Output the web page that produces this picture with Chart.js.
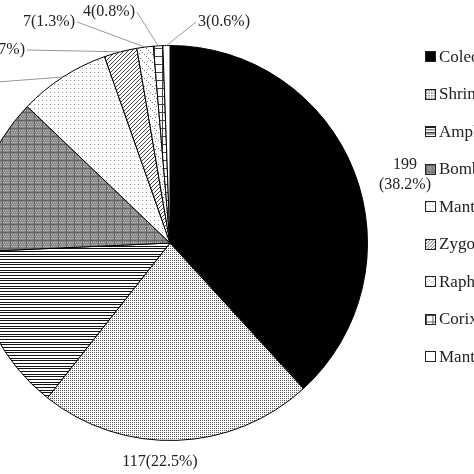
<!DOCTYPE html><html><head><meta charset="utf-8">
<script src="https://cdn.jsdelivr.net/npm/chart.js@4/dist/chart.umd.min.js"></script>
<style>
body{margin:0;width:474px;height:474px;overflow:hidden;background:#fff;position:relative;font-family:"Liberation Serif",serif}
#wrap{position:absolute;left:-230px;top:0;width:800px;height:474px}
#leg{position:absolute;left:425px;top:38px;font-size:17px;color:#222}
#leg div{height:37.5px;display:flex;align-items:center;white-space:nowrap}
#leg canvas{width:11px;height:11px;margin-right:3px;border:1px solid #222;box-sizing:border-box}
</style></head><body>
<div id="wrap"><canvas id="c"></canvas></div>
<div id="leg"></div>
<script>
const categories=["Coleoptera","Shrimp","Amphipoda","Bombycidae","Mantodea","Zygoptera","Raphidioptera","Corixidae","Mantophasmatodea"];
const values=[199,117,71,67,39,14,7,4,3];
const percents=["38.2%","22.5%","13.6%","12.9%","7.5%","2.7%","1.3%","0.8%","0.6%"];
function pat(kind){
  const c=document.createElement('canvas');c.width=c.height=8;const g=c.getContext('2d');
  g.fillStyle='#fff';g.fillRect(0,0,8,8);g.fillStyle='#555';
  if(kind==0){g.fillStyle='#000';g.fillRect(0,0,8,8);}
  else if(kind==1){for(let x=0;x<8;x+=2)for(let y=0;y<8;y+=2)g.fillRect(x,y,1,1);g.fillStyle='#aaa';}
  else if(kind==2){g.fillStyle='#111';for(let y=0;y<8;y+=3)g.fillRect(0,y,8,1);}
  else if(kind==3){g.fillStyle='#888';g.fillRect(0,0,8,8);g.fillStyle='#bbb';for(let x=0;x<8;x+=2)for(let y=0;y<8;y+=2)g.fillRect(x+((y/2)%2),y,1,1);g.fillStyle='#666';g.fillRect(0,0,8,1);g.fillRect(0,0,1,8);}
  else if(kind==4){g.fillStyle='#999';for(let x=0;x<8;x+=4)for(let y=0;y<8;y+=4)g.fillRect(x,y,1,1);}
  else if(kind==5){g.fillStyle='#444';for(let i=0;i<8;i++){g.fillRect(i,(8-i)%8,1,1);g.fillRect(i,(12-i)%8,1,1);}g.fillStyle='#999';g.fillRect(0,0,8,0);}
  else if(kind==6){g.fillStyle='#777';for(let i=0;i<8;i+=2)g.fillRect(i,i,1,1);g.fillRect(1,5,1,1);}
  else if(kind==7){g.fillStyle='#444';g.fillRect(0,0,8,1);g.fillRect(0,0,1,8);}
  return g.createPattern(c,'repeat');
}
const fills=categories.map((_,i)=>i==8?'#fff':pat(i));
const leg=document.getElementById('leg');
categories.forEach((n,i)=>{const d=document.createElement('div');const s=document.createElement('canvas');s.width=s.height=11;const g=s.getContext('2d');g.fillStyle=fills[i];g.fillRect(0,0,11,11);d.appendChild(s);d.appendChild(document.createTextNode(n));leg.appendChild(d);});
const labelSpots=[[635,165,null],[390,462,null],[0,0,null],[0,0,null],[225,82,[382,58]],[255,50,[298,51]],[305,22,[324,45]],[365,12,[364,44]],[428,22,[371,44]]];
const lbl={id:'lbl',afterDatasetsDraw(ch){const g=ch.ctx;g.save();g.font='16px "Liberation Serif"';g.fillStyle='#222';g.strokeStyle='#999';g.lineWidth=1;g.textBaseline='middle';
 ch.getDatasetMeta(0).data.forEach((a,i)=>{const t=values[i]+'('+percents[i]+')';const sp=labelSpots[i];
  if(i==0){g.textAlign='center';g.fillText(String(values[i]),sp[0],sp[1]);g.fillText('('+percents[i]+')',sp[0],sp[1]+20);}
  else if(i==1){g.textAlign='center';g.fillText(t,sp[0],sp[1]);}
  else if(sp[2]){g.textAlign=i>=8?'left':'right';g.fillText(t,sp[0],sp[1]);
   const m=(a.startAngle+a.endAngle)/2;const ex=a.x+Math.cos(m)*a.outerRadius,ey=a.y+Math.sin(m)*a.outerRadius;
   g.beginPath();g.moveTo(i>=8?sp[0]-2:sp[0]+2,sp[1]);g.lineTo(ex,ey);g.stroke();}
 });g.restore();}};
new Chart(document.getElementById('c'),{type:'pie',data:{labels:categories,datasets:[{data:values,backgroundColor:fills,borderColor:'#000',borderWidth:1}]},
 options:{responsive:true,maintainAspectRatio:false,animation:false,layout:{padding:{top:45,bottom:33}},plugins:{legend:{display:false},tooltip:{enabled:false}}},plugins:[lbl]});
</script></body></html>
